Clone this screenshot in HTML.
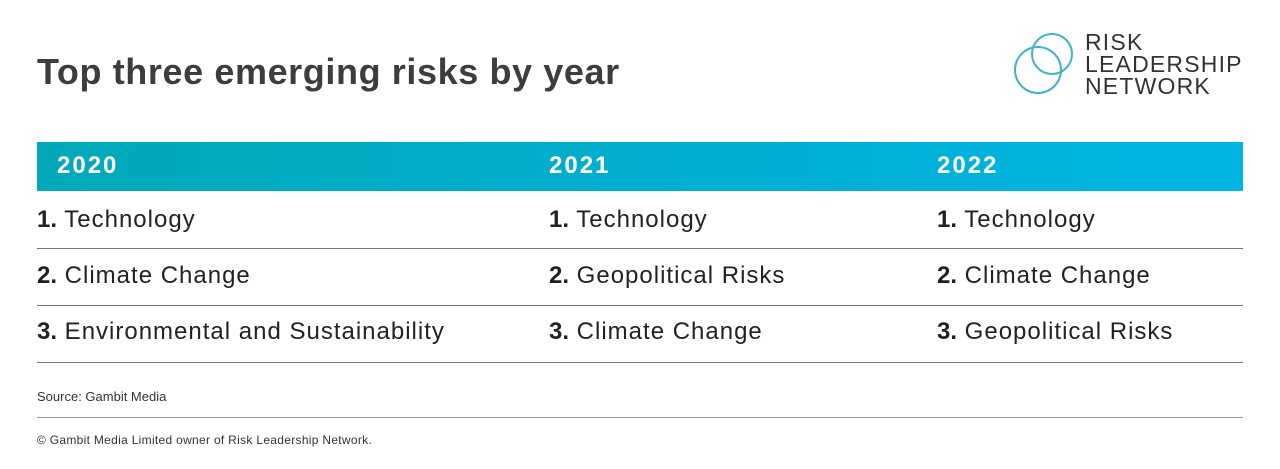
<!DOCTYPE html>
<html><head><style>
body{margin:0;width:1280px;height:469px;background:#fff;font-family:"Liberation Sans",sans-serif;position:relative;overflow:hidden;color:#222}
.a{position:absolute;white-space:nowrap}
.title{left:37px;top:51px;font-size:36px;color:#3d3d3d;font-weight:bold;letter-spacing:0.6px}
.bar{left:37px;top:142px;width:1206px;height:49px;background:linear-gradient(90deg,#00a9b8,#00b5e5)}
.yr{top:152px;font-size:24px;color:#fff;font-weight:bold;letter-spacing:2px}
.it{font-size:24px;color:#222;letter-spacing:1px}
.it b{font-weight:bold;letter-spacing:0}
.ln{left:37px;width:1206px;height:1px;background:#777}
.logo{left:1085px;font-size:23px;color:#333;letter-spacing:1.2px;line-height:22px;top:31px}
</style></head><body>
<div class="a title">Top three emerging risks by year</div>
<svg class="a" style="left:1005px;top:25px" width="80" height="80"><circle cx="47" cy="29" r="20" fill="none" stroke="#3fb3c9" stroke-width="2"/><circle cx="33" cy="45" r="23" fill="none" stroke="#3fb3c9" stroke-width="2"/></svg>
<div class="a logo">RISK<br>LEADERSHIP<br>NETWORK</div>
<div class="a bar"></div>
<div class="a yr" style="left:57px">2020</div>
<div class="a yr" style="left:549px">2021</div>
<div class="a yr" style="left:937px">2022</div>
<div class="a it" style="left:37px;top:206px"><b>1.</b> Technology</div>
<div class="a it" style="left:549px;top:206px"><b>1.</b> Technology</div>
<div class="a it" style="left:937px;top:206px"><b>1.</b> Technology</div>
<div class="a ln" style="top:248px"></div>
<div class="a it" style="left:37px;top:262px"><b>2.</b> Climate Change</div>
<div class="a it" style="left:549px;top:262px"><b>2.</b> Geopolitical Risks</div>
<div class="a it" style="left:937px;top:262px"><b>2.</b> Climate Change</div>
<div class="a ln" style="top:305px"></div>
<div class="a it" style="left:37px;top:318px"><b>3.</b> Environmental and Sustainability</div>
<div class="a it" style="left:549px;top:318px"><b>3.</b> Climate Change</div>
<div class="a it" style="left:937px;top:318px"><b>3.</b> Geopolitical Risks</div>
<div class="a ln" style="top:362px"></div>
<div class="a" style="left:37px;top:389px;font-size:13px;color:#333">Source: Gambit Media</div>
<div class="a ln" style="top:417px;background:#999"></div>
<div class="a" style="left:37px;top:433px;font-size:12px;color:#333;letter-spacing:0.3px">© Gambit Media Limited owner of Risk Leadership Network.</div>
</body></html>
